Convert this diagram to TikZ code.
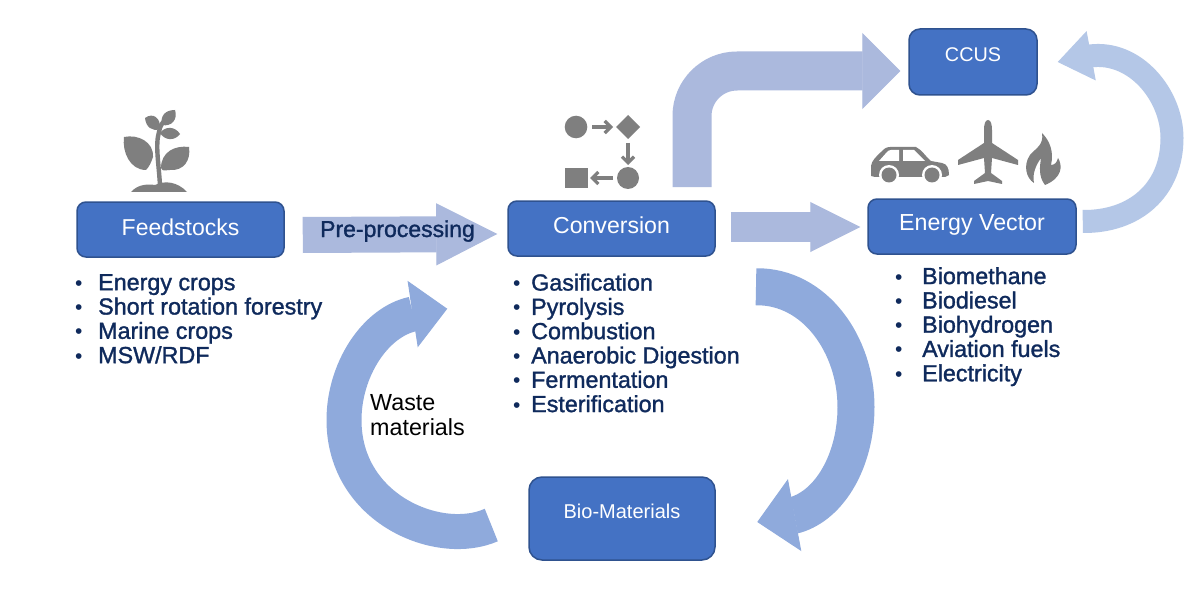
\documentclass[tikz,border=0pt]{standalone}
\usepackage{fontspec}
\setmainfont{Liberation Sans}
\newfontfamily\fbold[RawFeature={embolden=1.3}]{Liberation Sans}
\usetikzlibrary{calc,arrows.meta}
\definecolor{boxfill}{HTML}{4472C4}
\definecolor{boxline}{HTML}{2F528F}
\definecolor{arrowA}{HTML}{ABB9DD}
\definecolor{arrowB}{HTML}{B4C7E7}
\definecolor{arrowC}{HTML}{8FAADC}
\definecolor{navy}{HTML}{0F2A5C}
\definecolor{icon}{HTML}{7F7F7F}
\newcommand{\boxlabel}[2]{\raisebox{#1pt}[0pt][0pt]{#2}}
\newcommand{\lst}[2]{\makebox[#1pt][l]{\normalfont\fontsize{21}{24}\selectfont •}#2}
\tikzset{
  x=1pt,y=-1pt,
  bluebox/.style={draw=boxline,fill=boxfill,line width=1.5pt,rounded corners=#1,inner sep=0pt,text=white,align=center},
  listnode/.style={anchor=north west,inner sep=0pt,align=left,text=navy,font=\fontsize{23.3}{24.3}\fbold\selectfont},
  blockarrow/.style n args={4}{draw=#1,line width=#2pt,line join=round,-{Triangle[length=#3pt,width=#4pt,line width=1pt]}},
  iconline/.style={draw=icon,line width=3.2pt},
  iconhead/.style={-{Straight Barb[length=6pt,width=12pt]}},
}
\begin{document}
\begin{tikzpicture}
\useasboundingbox[fill=white] (0,0) rectangle (1200,591);
% boxes
\node[bluebox=9pt,minimum width=207pt,minimum height=55pt,font=\fontsize{23}{26}\selectfont] (feed) at (180.5,229.5) {\boxlabel{-5.5}{Feedstocks}};
\node[bluebox=9pt,minimum width=207pt,minimum height=55pt,font=\fontsize{23.1}{26}\selectfont] (conv) at (611.5,228.5) {\boxlabel{-5}{Conversion}};
\node[bluebox=9pt,minimum width=208pt,minimum height=55pt,font=\fontsize{23.2}{26}\selectfont] (ev) at (972,226.5) {\boxlabel{-4}{Energy Vector}};
\node[bluebox=11pt,minimum width=128pt,minimum height=66pt,font=\fontsize{19.8}{24}\selectfont] (ccus) at (973,62) {\boxlabel{0}{CCUS}};
\node[bluebox=13pt,minimum width=186pt,minimum height=83pt,font=\fontsize{20}{24}\selectfont] (bio) at (622,518.5) {\boxlabel{0.5}{Bio-Materials}};
% connector ends
\coordinate (ppout) at ($(feed.east)+(18,5.5)$);
\coordinate (ppin) at ($(conv.west)+(-10,5.5)$);
\coordinate (cvout) at ($(conv.east)+(15,-1.5)$);
\coordinate (cvin) at ($(ev.west)+(-7,0.5)$);
\coordinate (upout) at ($(conv.north)+(80.5,-13)$);
\coordinate (upin) at ($(ccus.west)+(-8,9)$);
\coordinate (evout) at ($(ev.east)+(6,-5)$);
\coordinate (evin) at ($(ccus.east)+(20,0)$);
\coordinate (dnout) at ($(conv.south)+(144.5,30)$);
\coordinate (dnin) at ($(bio.east)+(41.5,3.5)$);
\coordinate (wsout) at ($(bio.west)+(-37,6.5)$);
\coordinate (wsin) at ($(conv.south west)+(-60,52)$);
% arrows
\draw[blockarrow={arrowA}{36}{61}{62}] (ppout) -- (ppin);
\draw[blockarrow={arrowA}{30}{50}{50}] (cvout) -- (cvin);
\draw[blockarrow={arrowA}{39}{38}{76},rounded corners=45pt] (upout) |- (upin);
\draw[blockarrow={arrowB}{23}{34}{50}] (evout) .. controls (1135,222) and (1172,190) .. (1172,138) .. controls (1172,95) and (1135,50) .. (1090,56) -- (evin);
\draw[blockarrow={arrowC}{37}{38}{73}] (dnout) .. controls (815,286) and (856,345) .. (856,407) .. controls (856,460) and (830,505) .. (795,515) -- (dnin);
\draw[blockarrow={arrowC}{35}{35}{67}] (wsout) .. controls (440,548) and (344,510) .. (344,420) .. controls (344,370) and (375,322) .. (413,314) -- (wsin);
% arrow text
\node[anchor=base,inner sep=0pt,text=navy,font=\fontsize{23}{26}\fbold\selectfont] (pp) at (397.5,237) {Pre-processing};
\node[anchor=north west,inner sep=0pt,align=left,font=\fontsize{23.3}{25}\selectfont] (ws) at (370,394.5) {Waste\\materials};
% lists
\node[listnode] (l1) at (75,274) {\lst{23}{Energy crops}\\\lst{23}{Short rotation forestry}\\\lst{23}{Marine crops}\\\lst{23}{MSW/RDF}};
\node[listnode] (l2) at (513,273.5) {\lst{18}{Gasification}\\\lst{18}{Pyrolysis}\\\lst{18}{Combustion}\\\lst{18}{Anaerobic Digestion}\\\lst{18}{Fermentation}\\\lst{18}{Esterification}};
\node[listnode] (l3) at (895,267) {\lst{27}{Biomethane}\\\lst{27}{Biodiesel}\\\lst{27}{Biohydrogen}\\\lst{27}{Aviation fuels}\\\lst{27}{Electricity}};
% plant icon
\fill[icon] (131,192) .. controls (138,184) and (148,184) .. (155,185) .. controls (165,180) and (178,182) .. (187,192) -- cycle;
\draw[icon,line width=4.4pt] (160,186) .. controls (159,165) and (155,145) .. (159,132) .. controls (160,125) and (163,122) .. (167,118);
\fill[icon] (175,110) .. controls (178,119) and (172,127) .. (162,125) .. controls (160,116) and (165,110) .. (175,110) -- cycle;
\fill[icon] (145,118) .. controls (153,112) and (161,118) .. (160,129) .. controls (152,132) and (146,127) .. (145,118) -- cycle;
\fill[icon] (180,134) .. controls (175,126) and (165,126) .. (160,133) .. controls (165,141) and (175,141) .. (180,134) -- cycle;
\fill[icon] (124,137) .. controls (138,134) and (154,142) .. (153,157) .. controls (151,163) and (149,167) .. (146,170) .. controls (130,170) and (122,152) .. (124,137) -- cycle;
\fill[icon] (189,147) .. controls (175,145) and (161,152) .. (161,168) .. controls (163,172) and (165,170) .. (170,170) .. controls (184,171) and (191,160) .. (189,147) -- cycle;
% process icon
\fill[icon] (576,127) circle (11.3);
\fill[icon] (628,115) -- (640,127) -- (628,139) -- (616,127) -- cycle;
\fill[icon] (628,178) circle (11);
\fill[icon] (565,168) rectangle (587.5,188.5);
\draw[iconline,iconhead] (592,127) -- (613,127);
\draw[iconline,iconhead] (628,143) -- (628,165);
\draw[iconline,iconhead] (613,178) -- (590,178);
% car icon
\fill[icon] (871,176) -- (871,166) .. controls (872,160) and (876,157) .. (881,152) .. controls (884,149) and (886,147) .. (890,147) -- (916,147) .. controls (922,150) and (926,157) .. (931,161) -- (942,163) .. controls (947,164) and (949,168) .. (949,175) -- (945,177) -- (875,177) -- cycle;
\fill[white] (879,161) -- (887,152) .. controls (888,151) and (889,150) .. (891,150) -- (899,150) -- (899,161) -- cycle;
\fill[white] (903,150) -- (914,150) -- (925,161) -- (903,161) -- cycle;
\fill[white] (889,175) circle (10) (932,175) circle (10);
\fill[icon] (889,175) circle (7.5) (932,175) circle (7.5);
% plane icon
\fill[icon] (988,120) .. controls (991,120) and (992,125) .. (992,130) -- (992,143) -- (1018,160) -- (1018,165) -- (992,158) -- (991,173) -- (1002,181) -- (1002,184) -- (988,181) -- (974,184) -- (974,181) -- (985,173) -- (984,158) -- (958,165) -- (958,160) -- (984,143) -- (984,130) .. controls (984,125) and (985,120) .. (988,120) -- cycle;
% flame icon
\fill[icon] (1042,133) .. controls (1050,141) and (1054,152) .. (1051,165) .. controls (1055,165) and (1057,162) .. (1058,158) .. controls (1063,166) and (1062,178) .. (1045,185) .. controls (1038,176) and (1040,166) .. (1041,158) .. controls (1036,165) and (1032,174) .. (1034,183) .. controls (1026,178) and (1023,165) .. (1030,155) .. controls (1036,148) and (1044,145) .. (1042,133) -- cycle;
\end{tikzpicture}
\end{document}
